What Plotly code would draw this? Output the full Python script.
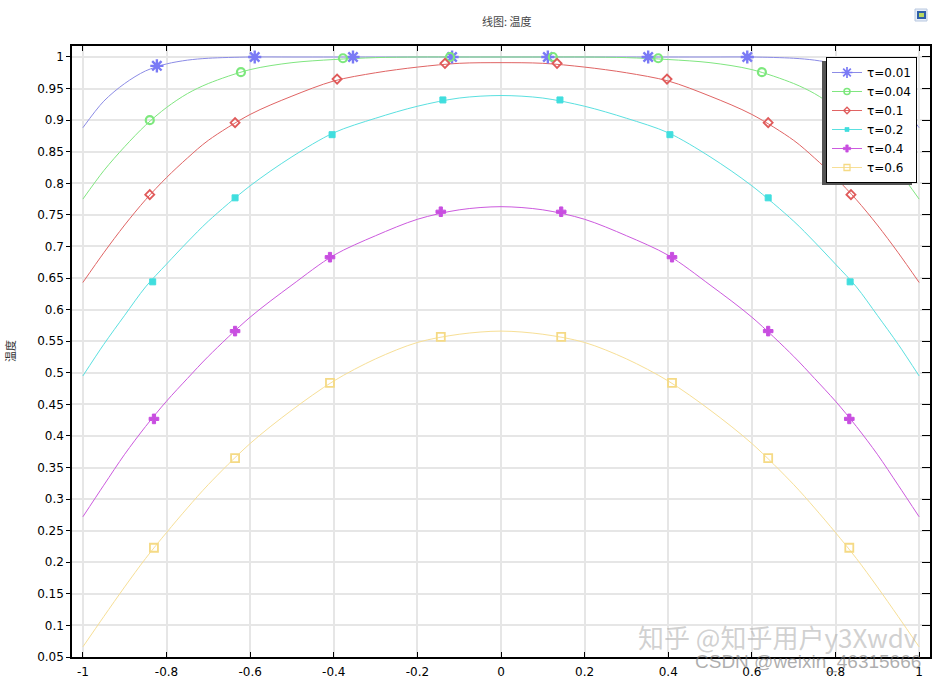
import plotly.graph_objects as go

# ---------------- data ----------------
x_grid = [-1.0, -0.95, -0.9, -0.85, -0.8, -0.75, -0.7, -0.6, -0.5, -0.4, -0.3, -0.2, -0.1,
          0.0, 0.1, 0.2, 0.3, 0.4, 0.5, 0.6, 0.7, 0.75, 0.8, 0.85, 0.9, 0.95, 1.0]

t001 = [0.888, 0.930, 0.958, 0.978, 0.989, 0.995, 0.998, 1.0, 1.0, 1.0, 1.0, 1.0, 1.0,
        1.0, 1.0, 1.0, 1.0, 1.0, 1.0, 1.0, 0.998, 0.995, 0.989, 0.978, 0.958, 0.930, 0.888]
t004 = [0.775, 0.820, 0.858, 0.892, 0.920, 0.942, 0.958, 0.980, 0.991, 0.996, 0.999, 1.0, 1.0,
        1.0, 1.0, 1.0, 0.999, 0.996, 0.991, 0.980, 0.958, 0.942, 0.920, 0.892, 0.858, 0.820, 0.775]
t01 = [0.643, 0.690, 0.734, 0.774, 0.809, 0.840, 0.868, 0.909, 0.938, 0.962, 0.975, 0.984, 0.990,
       0.991, 0.990, 0.984, 0.975, 0.962, 0.938, 0.909, 0.868, 0.840, 0.809, 0.774, 0.734, 0.690, 0.643]
t02 = [0.495, 0.545, 0.591, 0.636, 0.672, 0.707, 0.740, 0.796, 0.842, 0.880, 0.903, 0.922, 0.935,
       0.939, 0.935, 0.922, 0.903, 0.880, 0.842, 0.796, 0.740, 0.707, 0.672, 0.636, 0.591, 0.545, 0.495]
t04 = [0.272, 0.322, 0.371, 0.415, 0.455, 0.491, 0.526, 0.588, 0.639, 0.686, 0.717, 0.743, 0.758,
       0.763, 0.758, 0.743, 0.717, 0.686, 0.639, 0.588, 0.526, 0.491, 0.455, 0.415, 0.371, 0.322, 0.272]
t06 = [0.066, 0.114, 0.161, 0.206, 0.247, 0.286, 0.323, 0.388, 0.441, 0.487, 0.522, 0.548, 0.561,
       0.566, 0.561, 0.548, 0.522, 0.487, 0.441, 0.388, 0.323, 0.286, 0.247, 0.206, 0.161, 0.114, 0.066]

mk001_x = [-0.823, -0.589, -0.354, -0.117, 0.112, 0.352, 0.589, 0.823]
mk001_y = [0.986, 1.0, 1.0, 1.0, 1.0, 1.0, 1.0, 0.986]
mk004_x = [-0.840, -0.622, -0.378, -0.122, 0.124, 0.376, 0.624, 0.840]
mk004_y = [0.900, 0.976, 0.998, 1.0, 1.0, 0.998, 0.976, 0.900]
mk01_x = [-0.840, -0.636, -0.392, -0.134, 0.134, 0.397, 0.639, 0.837]
mk01_y = [0.782, 0.896, 0.965, 0.990, 0.990, 0.965, 0.896, 0.782]
mk02_x = [-0.833, -0.636, -0.404, -0.139, 0.141, 0.404, 0.639, 0.835]
mk02_y = [0.644, 0.777, 0.877, 0.932, 0.932, 0.877, 0.777, 0.644]
mk04_x = [-0.830, -0.636, -0.409, -0.144, 0.144, 0.409, 0.639, 0.833]
mk04_y = [0.427, 0.566, 0.683, 0.755, 0.755, 0.683, 0.566, 0.427]
mk06_x = [-0.830, -0.636, -0.409, -0.144, 0.144, 0.409, 0.639, 0.833]
mk06_y = [0.223, 0.365, 0.484, 0.557, 0.557, 0.484, 0.365, 0.223]

labels = ["τ=0.01", "τ=0.04", "τ=0.1", "τ=0.2", "τ=0.4", "τ=0.6"]
x_ticks = [-1, -0.8, -0.6, -0.4, -0.2, 0, 0.2, 0.4, 0.6, 0.8, 1]
x_tick_text = ["-1", "-0.8", "-0.6", "-0.4", "-0.2", "0", "0.2", "0.4", "0.6", "0.8", "1"]
y_ticks = [0.05, 0.1, 0.15, 0.2, 0.25, 0.3, 0.35, 0.4, 0.45, 0.5, 0.55, 0.6, 0.65,
           0.7, 0.75, 0.8, 0.85, 0.9, 0.95, 1.0]
y_tick_text = ["0.05", "0.1", "0.15", "0.2", "0.25", "0.3", "0.35", "0.4", "0.45", "0.5",
               "0.55", "0.6", "0.65", "0.7", "0.75", "0.8", "0.85", "0.9", "0.95", "1"]

# ---------------- styles ----------------
curves = [t001, t004, t01, t02, t04, t06]
marks = [(mk001_x, mk001_y), (mk004_x, mk004_y), (mk01_x, mk01_y),
         (mk02_x, mk02_y), (mk04_x, mk04_y), (mk06_x, mk06_y)]
line_colors = ["#8c8ce6", "#80e680", "#e06464", "#5ae0e0", "#cc5ade", "#f7df96"]
mark_colors = ["#7a7af5", "#7de87d", "#e05a5a", "#40dede", "#c84ee0", "#f5da85"]
symbols = ["asterisk-open", "circle-open", "diamond-open", "square", "cross", "square-open"]
sizes = [11, 8, 7, 6, 8, 8]
mlw = [2.4, 2.2, 1.8, 1, 1, 1.8]

fig = go.Figure()
for i in range(6):
    fig.add_trace(go.Scatter(x=x_grid, y=curves[i], mode="lines",
                             line=dict(color=line_colors[i], width=1, shape="spline", smoothing=0.9),
                             showlegend=False, hoverinfo="skip"))
for i in range(6):
    fig.add_trace(go.Scatter(x=marks[i][0], y=marks[i][1], mode="markers",
                             marker=dict(symbol=symbols[i], size=sizes[i], color=mark_colors[i],
                                         line=dict(color=mark_colors[i], width=mlw[i])),
                             showlegend=False))
for i in range(6):
    fig.add_trace(go.Scatter(x=[None], y=[None], mode="lines+markers", name=labels[i],
                             line=dict(color=line_colors[i], width=1),
                             marker=dict(symbol=symbols[i], size=sizes[i] - 2, color=mark_colors[i],
                                         line=dict(color=mark_colors[i], width=mlw[i] * 0.7))))
# helper trace for right-side inside ticks
fig.add_trace(go.Scatter(x=[None], y=[None], yaxis="y2", showlegend=False, mode="lines"))

W, H = 937, 680
L, R, T, B = 72, 7, 46, 23
pw, ph = W - L - R, H - T - B


def px(xp):
    return (xp - L) / pw


def py(yp):
    return (H - B - yp) / ph


yrange = [0.05, 1.0174]
fig.update_layout(
    width=W, height=H,
    margin=dict(l=L, r=R, t=T, b=B),
    paper_bgcolor="white", plot_bgcolor="white",
    font=dict(family="DejaVu Sans", size=12, color="black"),
    xaxis=dict(range=[-1.026, 1.026], tickvals=x_ticks, ticktext=x_tick_text,
               showgrid=True, gridcolor="#e6e6e6", gridwidth=2, zeroline=False,
               showline=True, linecolor="black", linewidth=1.5, mirror="ticks",
               ticks="inside", ticklen=5, tickcolor="black", tickfont=dict(size=12),
               ticklabelstandoff=3, automargin=False),
    yaxis=dict(range=yrange, tickvals=y_ticks, ticktext=y_tick_text,
               showgrid=True, gridcolor="#e6e6e6", gridwidth=2, zeroline=False,
               showline=True, linecolor="black", linewidth=1.5, mirror=True,
               ticks="outside", ticklen=4, tickcolor="black", tickfont=dict(size=12),
               automargin=False),
    yaxis2=dict(range=yrange, overlaying="y", side="right", tickvals=y_ticks,
                showticklabels=False, showgrid=False, zeroline=False, showline=False,
                ticks="inside", ticklen=8, tickcolor="black", automargin=False),
    legend=dict(x=px(826), y=py(57), xanchor="left", yanchor="top",
                bgcolor="white", bordercolor="black", borderwidth=1,
                font=dict(family="DejaVu Sans", size=12, color="black"),
                itemwidth=30, tracegroupgap=0),
    shapes=[
        dict(type="rect", xref="paper", yref="paper", x0=px(822), x1=px(912),
             y0=py(185), y1=py(61), fillcolor="#555555", line=dict(width=0), layer="above"),
        dict(type="rect", xref="paper", yref="paper", x0=px(915), x1=px(927),
             y0=py(21), y1=py(9), fillcolor="#e8eef7", line=dict(color="#b8c8e0", width=1)),
        dict(type="rect", xref="paper", yref="paper", x0=px(917), x1=px(926),
             y0=py(19), y1=py(11), fillcolor="#2f5fa8", line=dict(width=0)),
        dict(type="rect", xref="paper", yref="paper", x0=px(919), x1=px(924),
             y0=py(17), y1=py(13), fillcolor="#b8d860", line=dict(width=0)),
    ],
    annotations=[
        dict(text="线图: 温度", xref="paper", yref="paper", x=px(507), y=py(21),
             xanchor="center", yanchor="middle", showarrow=False,
             font=dict(family="Noto Sans CJK SC", size=11, color="#444444")),
        dict(text="温度", xref="paper", yref="paper", x=px(10), y=py(351),
             xanchor="center", yanchor="middle", showarrow=False, textangle=-90,
             font=dict(family="Noto Sans CJK SC", size=11, color="#333333")),
        dict(text="知乎 @知乎用户y3Xwdv", xref="paper", yref="paper", x=px(920), y=py(636),
             xanchor="right", yanchor="middle", showarrow=False,
             font=dict(family="Noto Sans CJK SC", size=26, color="rgba(170,170,170,0.55)")),
        dict(text="CSDN @weixin_46315666", xref="paper", yref="paper", x=px(923), y=py(662),
             xanchor="right", yanchor="middle", showarrow=False,
             font=dict(family="Liberation Sans", size=19, color="rgba(120,120,120,0.6)")),
    ],
)

fig.write_html("out.html")
